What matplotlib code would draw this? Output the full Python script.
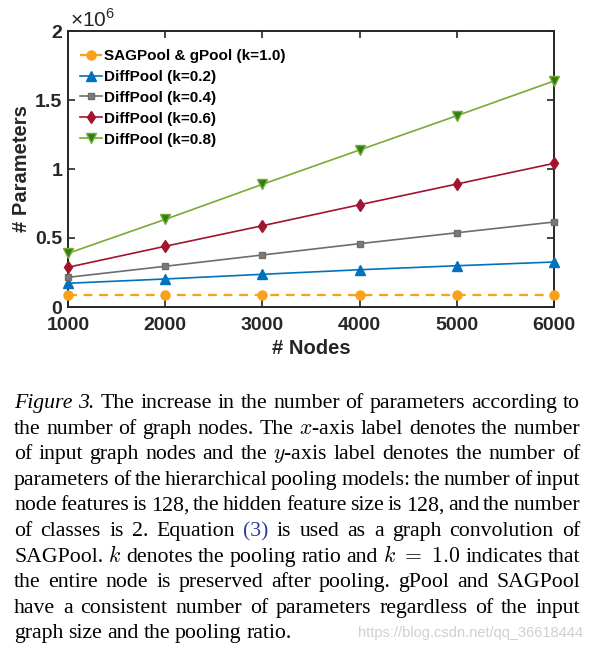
import matplotlib
matplotlib.use('Agg')
import matplotlib.pyplot as plt
from matplotlib.ticker import FuncFormatter

W, H = 591, 656

nodes = [1000, 2000, 3000, 4000, 5000, 6000]
sag_gpool = [87000, 87000, 87000, 87000, 87000, 87000]
diff_02 = [172000, 203000, 237000, 270000, 299000, 326000]
diff_04 = [215000, 295000, 377000, 459000, 538000, 616000]
diff_06 = [288000, 440000, 589000, 741000, 891000, 1041000]
diff_08 = [389000, 635000, 889000, 1138000, 1386000, 1638000]

x_ticks = [1000, 2000, 3000, 4000, 5000, 6000]
y_ticks = [0, 500000, 1000000, 1500000, 2000000]

caption = [
    [('Figure', 'i'), ('3.', 'i'), 'The', 'increase', 'in', 'the', 'number', 'of', 'parameters', 'according', 'to'],
    ['the', 'number', 'of', 'graph', 'nodes.', 'The', ('$x$-axis', 'm'), 'label', 'denotes', 'the', 'number'],
    ['of', 'input', 'graph', 'nodes', 'and', 'the', ('$y$-axis', 'm'), 'label', 'denotes', 'the', 'number', 'of'],
    ['parameters', 'of', 'the', 'hierarchical', 'pooling', 'models:', 'the', 'number', 'of', 'input'],
    ['node', 'features', 'is', '128,', 'the', 'hidden', 'feature', 'size', 'is', '128,', 'and', 'the', 'number'],
    ['of', 'classes', 'is', '2.', 'Equation', ('(3)', 'b'), 'is', 'used', 'as', 'a', 'graph', 'convolution', 'of'],
    ['SAGPool.', ('$k$', 'm'), 'denotes', 'the', 'pooling', 'ratio', 'and', ('$k\\ =\\ 1.0$', 'm'), 'indicates', 'that'],
    ['the', 'entire', 'node', 'is', 'preserved', 'after', 'pooling.', 'gPool', 'and', 'SAGPool'],
    ['have', 'a', 'consistent', 'number', 'of', 'parameters', 'regardless', 'of', 'the', 'input'],
    ['graph', 'size', 'and', 'the', 'pooling', 'ratio.'],
]

plt.rcParams['mathtext.fontset'] = 'custom'
plt.rcParams['mathtext.rm'] = 'Liberation Sans'
plt.rcParams['font.family'] = ['Liberation Sans', 'DejaVu Sans']

fig = plt.figure(figsize=(W / 100, H / 100), dpi=100)
ax = fig.add_axes([68 / W, 1 - 307 / H, 486 / W, 276 / H])

dark = '#262626'
ax.plot(nodes, sag_gpool, '--o', color='#F9A11B', lw=1.6, ms=6.5, dashes=(4, 3),
        clip_on=False, zorder=3, label='SAGPool & gPool (k=1.0)')
ax.plot(nodes, diff_02, '-^', color='#0072BD', lw=1.2, ms=6.5, clip_on=False, zorder=3,
        label='DiffPool (k=0.2)')
ax.plot(nodes, diff_04, '-s', color='#6D6D6D', mfc='#7A7A7A', lw=1.2, ms=5, clip_on=False,
        zorder=3, label='DiffPool (k=0.4)')
ax.plot(nodes, diff_06, '-d', color='#A2142F', lw=1.2, ms=6.5, clip_on=False, zorder=3,
        label='DiffPool (k=0.6)')
ax.plot(nodes, diff_08, '-v', color='#77AC30', mfc='#2E7D1A', mec='#77AC30', lw=1.2, ms=6.5,
        clip_on=False, zorder=3, label='DiffPool (k=0.8)')

ax.set_xlim(1000, 6000)
ax.set_ylim(0, 2000000)
ax.set_xticks(x_ticks)
ax.set_yticks(y_ticks)
ax.yaxis.set_major_formatter(FuncFormatter(lambda v, p: f'{v / 1e6:g}'))
ax.tick_params(direction='in', top=True, right=True, length=5, width=1.2, color=dark,
               labelsize=14, labelcolor=dark)
ax.tick_params(axis='x', pad=7)
ax.tick_params(axis='y', pad=4)
for lab in ax.get_xticklabels() + ax.get_yticklabels():
    lab.set_fontweight('bold')
for sp in ax.spines.values():
    sp.set_linewidth(1.4)
    sp.set_color(dark)

ax.set_xlabel('# Nodes', fontsize=14.5, fontweight='bold', color=dark, va='center')
ax.xaxis.set_label_coords(0.5, (307 - 348) / 276)
ax.set_ylabel('# Parameters', fontsize=14.5, fontweight='bold', color=dark, va='center')
ax.yaxis.set_label_coords((22 - 68) / 486, 0.5)

fig.text(70 / W, 1 - 27 / H, r'$\times10^{6}$', fontsize=15, color=dark,
         ha='left', va='baseline')

leg = ax.legend(loc='upper left', bbox_to_anchor=(12 / 486, 1 - 18 / 276), frameon=False,
                prop={'size': 11, 'weight': 'bold'}, handlelength=1.45, handletextpad=0.15,
                labelspacing=0.45, borderaxespad=0, borderpad=0)
for t in leg.get_texts():
    t.set_color('black')

# caption, justified line by line
renderer = fig.canvas.get_renderer()
x0, x1 = 14, 580
y_first, step = 408, 25.6
for i, words in enumerate(caption):
    texts = []
    for w in words:
        style = 'n'
        if isinstance(w, tuple):
            w, style = w
        kw = dict(family='Liberation Serif', fontsize=15.7, color='black', va='baseline', ha='left')
        if style == 'i':
            kw['fontstyle'] = 'italic'
        if style == 'b':
            kw['color'] = '#2A3A9C'
        t = fig.text(0, 0, w, **kw)
        if style == 'm':
            t.set_math_fontfamily('cm')
        texts.append(t)
    widths = [t.get_window_extent(renderer).width for t in texts]
    if i < len(caption) - 1:
        gap = (x1 - x0 - sum(widths)) / (len(texts) - 1)
    else:
        gap = 5
    x = x0
    y = y_first + i * step
    for t, wd in zip(texts, widths):
        t.set_position((x / W, 1 - y / H))
        x += wd + gap

fig.text(583 / W, 1 - 633 / H, 'https://blog.csdn.net/qq_36618444', fontsize=10.5,
         color='#D0D0D0', ha='right', va='center', family='Liberation Sans')

fig.savefig('out.png', dpi=100)
